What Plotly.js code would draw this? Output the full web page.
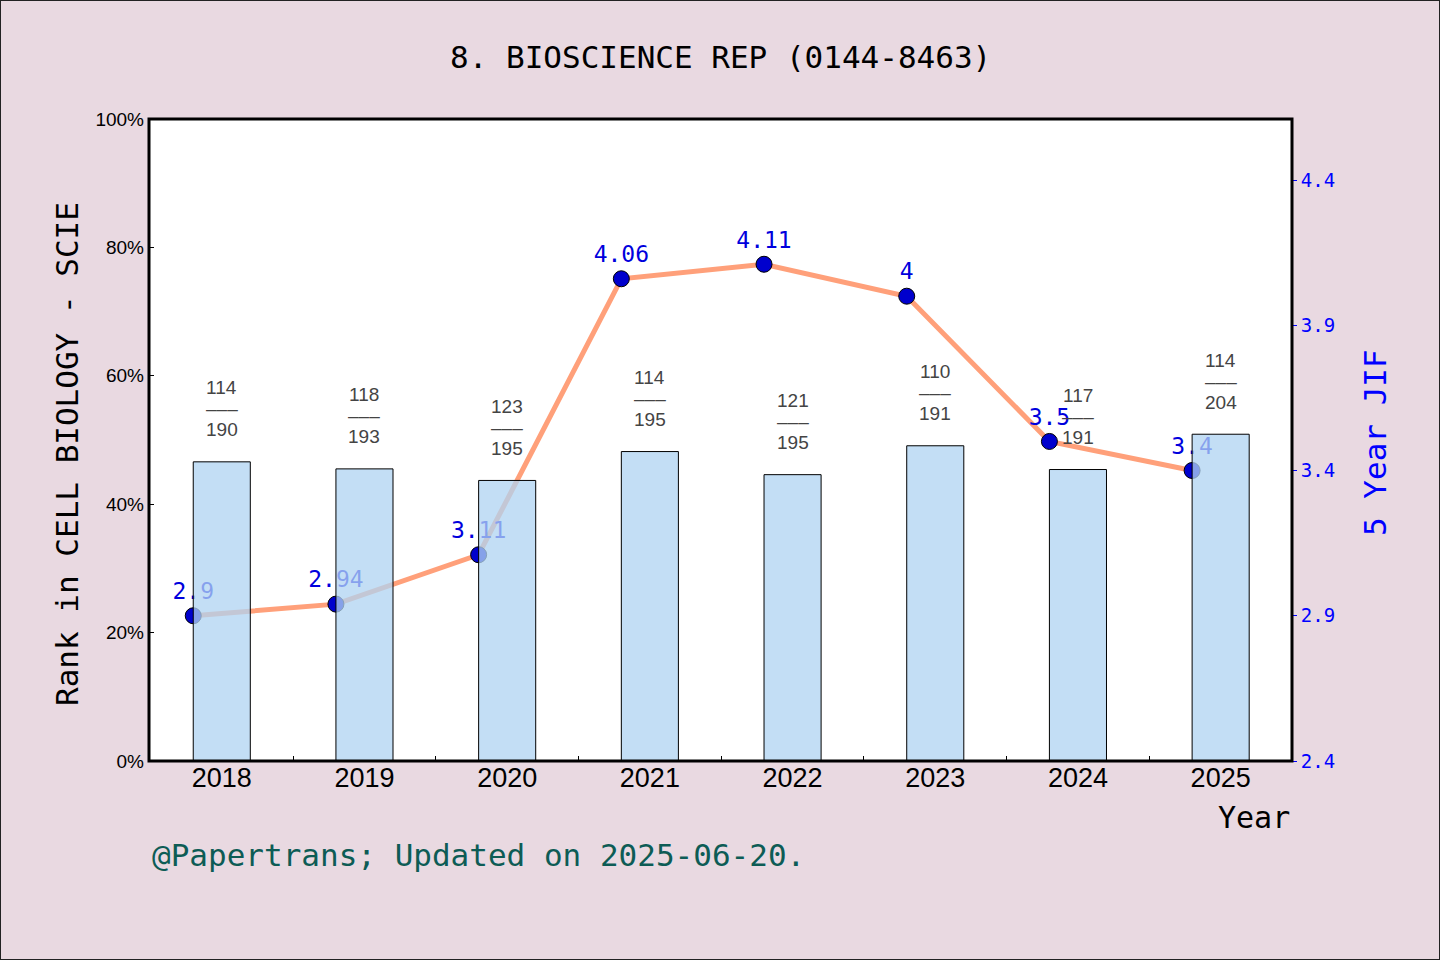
<!DOCTYPE html>
<html>
<head>
<meta charset="utf-8">
<script src="https://cdn.plot.ly/plotly-3.0.1.min.js"></script>
<style>html,body{margin:0;padding:0;background:#E9D9E1;}#chart{width:1440px;height:960px;}</style>
</head>
<body>
<div id="chart"></div>
<script>
const years = [2018, 2019, 2020, 2021, 2022, 2023, 2024, 2025];
const rankPct = [0.466, 0.455, 0.437, 0.482, 0.446, 0.491, 0.454, 0.509];
const ranks = [114, 118, 123, 114, 121, 110, 117, 114];
const totals = [190, 193, 195, 195, 195, 191, 191, 204];
const jif = [2.9, 2.94, 3.11, 4.06, 4.11, 4.0, 3.5, 3.4];
const jifLabels = ["2.9", "2.94", "3.11", "4.06", "4.11", "4", "3.5", "3.4"];
const tickLabels = ["2018", "2019", "2020", "2021", "2022", "2023", "2024", "2025"];

const barX = years.map(y => y + 0.2);
const minorX = years.map(y => y + 0.7);

const lineTrace = {
  type: 'scatter', mode: 'lines+markers+text',
  x: years, y: jif, xaxis: 'x', yaxis: 'y',
  text: jifLabels, textposition: 'top center',
  textfont: {family: 'DejaVu Sans Mono', size: 23, color: '#0000DD'},
  line: {color: '#FFA07A', width: 5},
  marker: {color: '#0000CD', size: 16, line: {color: '#000000', width: 1}},
  cliponaxis: false, hoverinfo: 'skip', showlegend: false
};

const barTrace = {
  type: 'bar', x: barX, y: rankPct, width: 0.4, xaxis: 'x', yaxis: 'y2',
  marker: {color: 'rgba(176,211,242,0.76)', line: {color: '#000000', width: 1}},
  hoverinfo: 'skip', showlegend: false
};

const annotations = [];
const labelFont = {family: 'Liberation Sans', size: 19, color: '#444444'};
for (let i = 0; i < years.length; i++) {
  const parts = [[String(totals[i]), 32], ['\u2013\u2013\u2013', 53], [String(ranks[i]), 74]];
  for (const [t, s] of parts) {
    annotations.push({
      x: barX[i], y: rankPct[i], xref: 'x', yref: 'y2', text: t,
      showarrow: false, yanchor: 'middle', xanchor: 'center', yshift: s,
      font: labelFont
    });
  }
}
annotations.push({
  text: '8. BIOSCIENCE REP (0144-8463)', xref: 'paper', yref: 'paper',
  x: 0.5, y: (761 - 57) / 642, xanchor: 'center', yanchor: 'middle', showarrow: false,
  font: {family: 'DejaVu Sans Mono', size: 31, color: '#000000'}
});
annotations.push({
  text: 'Rank in CELL BIOLOGY - SCIE', xref: 'paper', yref: 'paper',
  x: (67 - 149) / 1143, y: (761 - 454) / 642, xanchor: 'center', yanchor: 'middle',
  textangle: -90, showarrow: false,
  font: {family: 'DejaVu Sans Mono', size: 31, color: '#000000'}
});
annotations.push({
  text: '5 Year JIF', xref: 'paper', yref: 'paper',
  x: (1375 - 149) / 1143, y: (761 - 443) / 642, xanchor: 'center', yanchor: 'middle',
  textangle: -90, showarrow: false,
  font: {family: 'DejaVu Sans Mono', size: 31, color: '#0000FF'}
});
annotations.push({
  text: 'Year', xref: 'paper', yref: 'paper',
  x: (1254 - 149) / 1143, y: (761 - 817) / 642, xanchor: 'center', yanchor: 'middle',
  showarrow: false,
  font: {family: 'DejaVu Sans Mono', size: 30, color: '#000000'}
});
annotations.push({
  text: '@Papertrans; Updated on 2025-06-20.', xref: 'paper', yref: 'paper',
  x: (150 - 149) / 1143, y: (761 - 855) / 642, xanchor: 'left', yanchor: 'middle',
  showarrow: false,
  font: {family: 'DejaVu Sans Mono', size: 31, color: '#0D5C55'}
});

const layout = {
  width: 1440, height: 960,
  paper_bgcolor: '#E9D9E1', plot_bgcolor: '#FFFFFF',
  margin: {l: 149, r: 148, t: 119, b: 199, pad: 0},
  showlegend: false,
  xaxis: {
    range: [2017.69, 2025.70], tickmode: 'array', tickvals: barX, ticktext: tickLabels,
    ticks: '', showgrid: false, zeroline: false, showline: false,
    ticklabelstandoff: -2,
    tickfont: {family: 'Liberation Sans', size: 27, color: '#000000'},
    minor: {tickmode: 'array', tickvals: minorX, ticks: 'inside', ticklen: 5, tickwidth: 1, tickcolor: '#000000', showgrid: false}
  },
  yaxis: {
    side: 'right', range: [2.4, 4.61], tickmode: 'array',
    tickvals: [2.4, 2.9, 3.4, 3.9, 4.4], ticktext: ['2.4', '2.9', '3.4', '3.9', '4.4'],
    ticks: 'outside', ticklen: 4, tickcolor: '#0000FF', showgrid: false, zeroline: false, showline: false,
    tickfont: {family: 'DejaVu Sans Mono', size: 19, color: '#0000FF'}
  },
  yaxis2: {
    side: 'left', overlaying: 'y', range: [0, 1], tickmode: 'array',
    tickvals: [0, 0.2, 0.4, 0.6, 0.8, 1.0], ticktext: ['0%', '20%', '40%', '60%', '80%', '100%'],
    ticks: 'inside', ticklen: 5, tickcolor: '#000000', showgrid: false, zeroline: false, showline: false,
    ticklabelstandoff: 4,
    tickfont: {family: 'Liberation Sans', size: 19, color: '#000000'}
  },
  shapes: [
    {type: 'rect', xref: 'paper', yref: 'paper', x0: 0, x1: 1, y0: 0, y1: 1,
     line: {color: '#000000', width: 3}, layer: 'above'},
    {type: 'rect', xref: 'paper', yref: 'paper',
     x0: -149 / 1143, x1: (1440 - 149) / 1143, y0: (761 - 960) / 642, y1: 761 / 642,
     line: {color: '#222222', width: 2}, layer: 'above'}
  ],
  annotations: annotations
};

Plotly.newPlot('chart', [lineTrace, barTrace], layout, {displayModeBar: false, staticPlot: true});
</script>
</body>
</html>
